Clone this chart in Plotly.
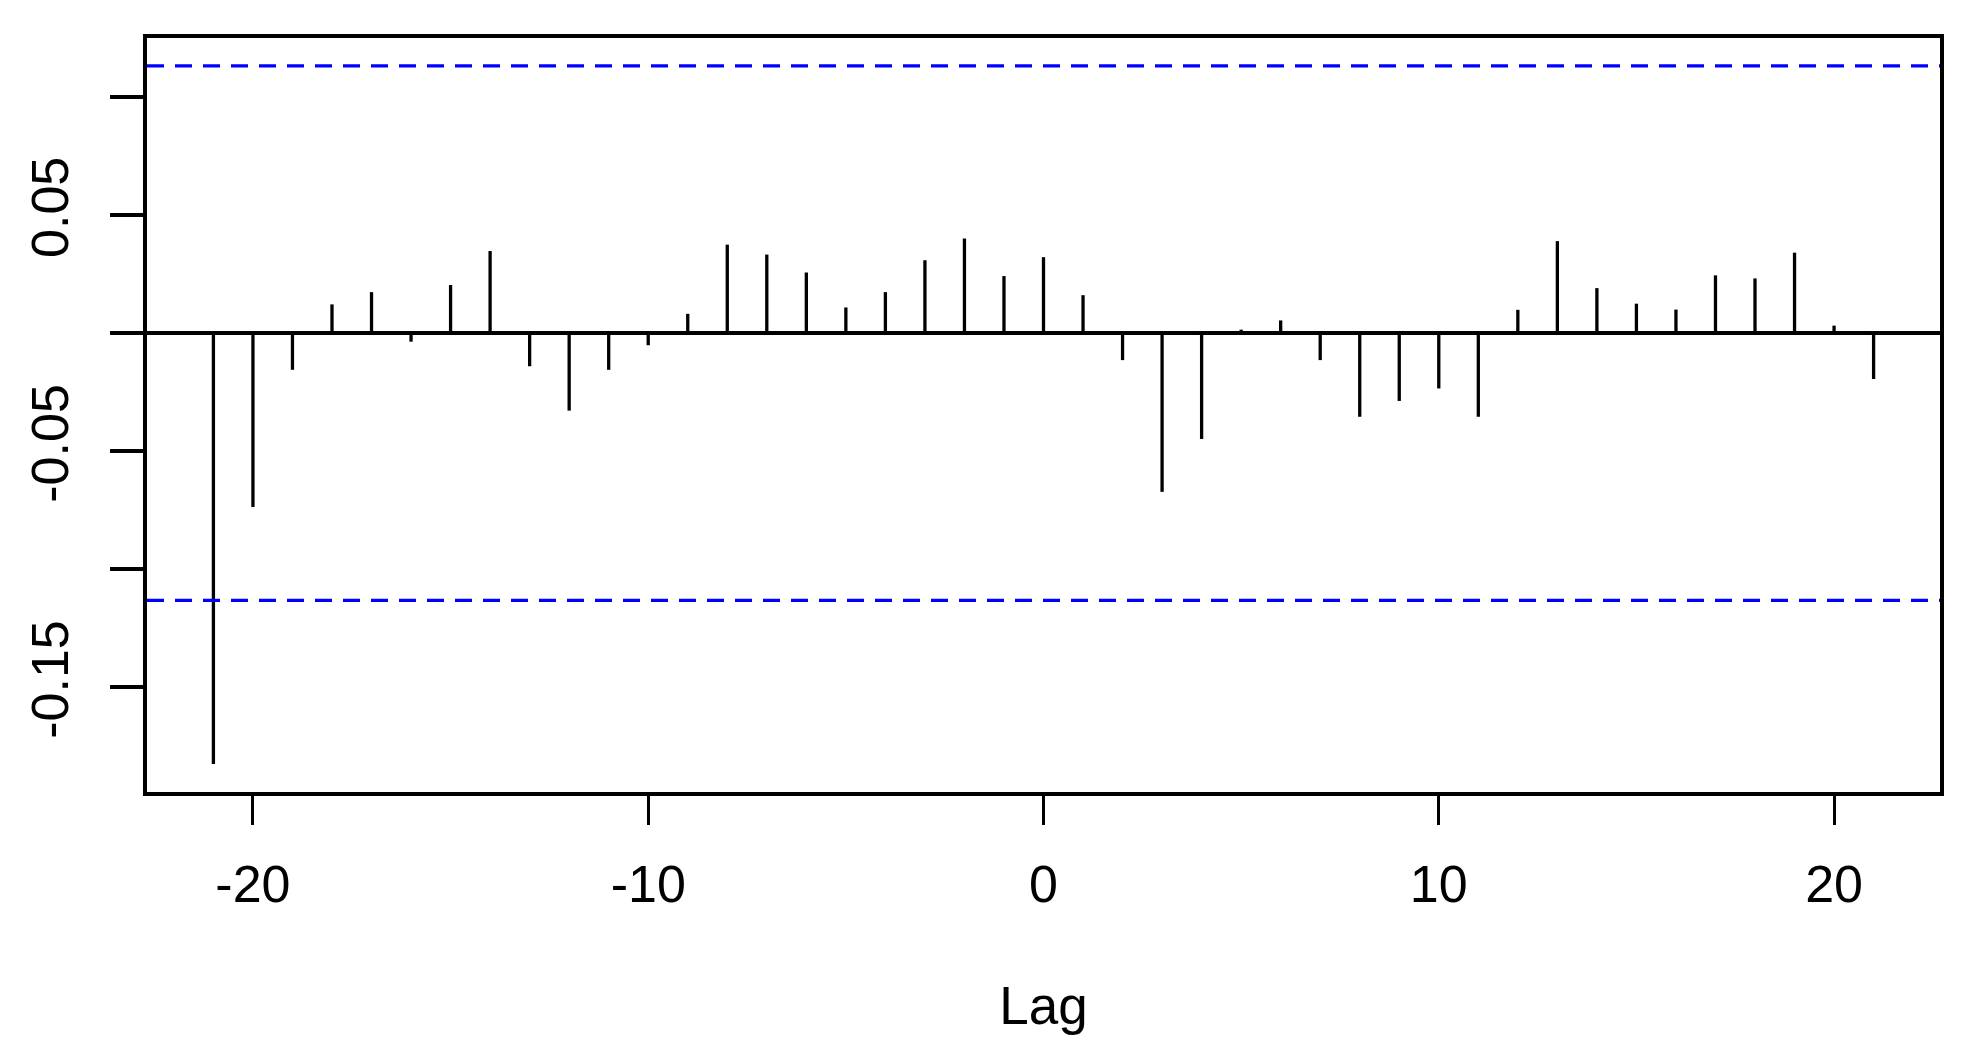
import plotly.graph_objects as go

# cross-correlation values, lags -21..21
lags = list(range(-21, 22))
ccf = [
    -0.1825, -0.0736, -0.0155, 0.0122, 0.0174, -0.0036, 0.0204, 0.0348,
    -0.0140, -0.0328, -0.0155, -0.0051, 0.0082, 0.0375, 0.0333, 0.0257,
    0.0109, 0.0174, 0.0309, 0.0401, 0.0242, 0.0322, 0.0161, -0.0114,
    -0.0672, -0.0448, 0.0015, 0.0054, -0.0114, -0.0354, -0.0287, -0.0234,
    -0.0354, 0.0099, 0.0390, 0.0191, 0.0125, 0.0100, 0.0245, 0.0232,
    0.0341, 0.0032, -0.0194,
]
ci = 0.1132

x_ticks = [-20, -10, 0, 10, 20]
x_labels = ["-20", "-10", "0", "10", "20"]
y_ticks = [-0.15, -0.1, -0.05, 0.0, 0.05, 0.1]
y_labels = ["-0.15", "", "-0.05", "", "0.05", ""]

FONT = "Liberation Sans, Arial, sans-serif"


def r_range(lo, hi):
    # R pads the axis range by 4%
    pad = (hi - lo) * 0.04
    return [lo - pad, hi + pad]


# vertical stems, one segment per lag
stem_x, stem_y = [], []
for lag, val in zip(lags, ccf):
    stem_x += [lag, lag, None]
    stem_y += [0, val, None]

fig = go.Figure()
fig.add_trace(
    go.Scatter(
        x=stem_x,
        y=stem_y,
        mode="lines",
        line=dict(color="black", width=3.3),
        showlegend=False,
        hoverinfo="skip",
    )
)

for level in (ci, -ci):
    fig.add_shape(
        type="line",
        xref="paper",
        x0=0,
        x1=1,
        yref="y",
        y0=level,
        y1=level,
        line=dict(color="#0000FF", width=3.3, dash="17px,11px"),
    )

# page body adds 8px around the figure, so the canvas is 8px smaller
fig.update_layout(
    width=1963,
    height=1054,
    margin=dict(l=139, r=31, t=30, b=270),
    paper_bgcolor="white",
    plot_bgcolor="white",
    font=dict(family=FONT, size=52, color="black"),
)

fig.update_xaxes(
    range=r_range(min(lags), max(lags)),
    tickvals=x_ticks,
    ticktext=x_labels,
    ticks="outside",
    ticklen=29,
    tickwidth=3,
    tickcolor="black",
    ticklabelstandoff=15,
    showgrid=False,
    zeroline=False,
    showline=True,
    linecolor="black",
    linewidth=3.5,
    mirror=True,
    automargin=False,
    title=dict(text="Lag", standoff=76, font=dict(size=53)),
)

fig.update_yaxes(
    range=r_range(min(min(ccf), -ci), max(max(ccf), ci)),
    tickvals=y_ticks,
    ticktext=y_labels,
    tickangle=-90,
    ticks="outside",
    ticklen=33,
    tickwidth=3.5,
    tickcolor="black",
    ticklabelstandoff=21,
    showgrid=False,
    zeroline=True,
    zerolinecolor="black",
    zerolinewidth=3.5,
    showline=True,
    linecolor="black",
    linewidth=3.5,
    mirror=True,
    automargin=False,
)

fig.write_html("out.html")
